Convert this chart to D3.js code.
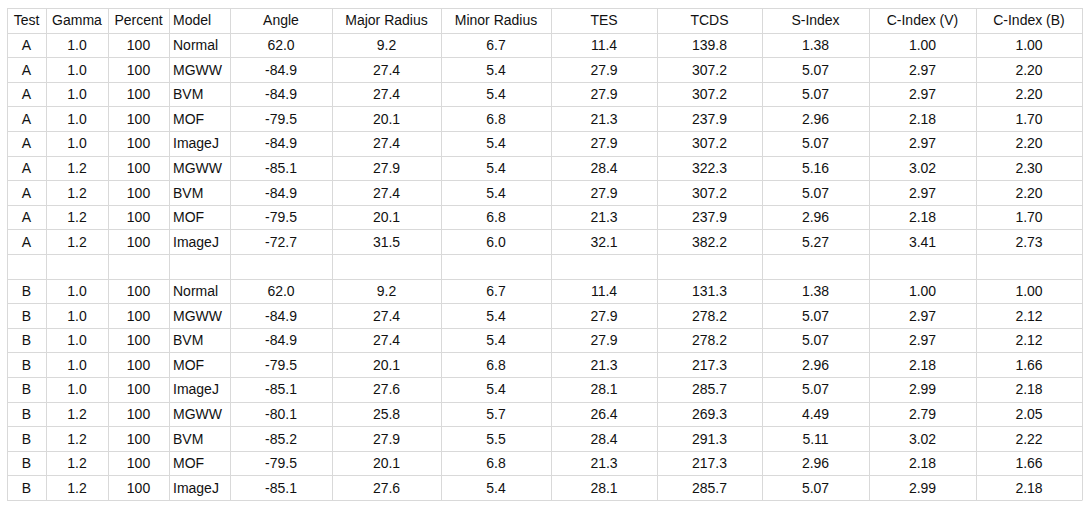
<!DOCTYPE html>
<html lang="en">
<head>
<meta charset="utf-8">
<script src="https://cdn.jsdelivr.net/npm/d3@7"></script>
<style>
body { margin: 0; background: #fff; }
text { font-family: "Liberation Sans", Arial, sans-serif; font-size: 14px; fill: #111; }
</style>
</head>
<body>
<script>
var headers = ["Test", "Gamma", "Percent", "Model", "Angle", "Major Radius", "Minor Radius", "TES", "TCDS", "S-Index", "C-Index (V)", "C-Index (B)"];
var tests = ["A","A","A","A","A","A","A","A","A","", "B","B","B","B","B","B","B","B","B"];
var gammas = ["1.0","1.0","1.0","1.0","1.0","1.2","1.2","1.2","1.2","", "1.0","1.0","1.0","1.0","1.0","1.2","1.2","1.2","1.2"];
var percents = ["100","100","100","100","100","100","100","100","100","", "100","100","100","100","100","100","100","100","100"];
var models = ["Normal","MGWW","BVM","MOF","ImageJ","MGWW","BVM","MOF","ImageJ","", "Normal","MGWW","BVM","MOF","ImageJ","MGWW","BVM","MOF","ImageJ"];
var angles = ["62.0","-84.9","-84.9","-79.5","-84.9","-85.1","-84.9","-79.5","-72.7","", "62.0","-84.9","-84.9","-79.5","-85.1","-80.1","-85.2","-79.5","-85.1"];
var majorR = ["9.2","27.4","27.4","20.1","27.4","27.9","27.4","20.1","31.5","", "9.2","27.4","27.4","20.1","27.6","25.8","27.9","20.1","27.6"];
var minorR = ["6.7","5.4","5.4","6.8","5.4","5.4","5.4","6.8","6.0","", "6.7","5.4","5.4","6.8","5.4","5.7","5.5","6.8","5.4"];
var tes = ["11.4","27.9","27.9","21.3","27.9","28.4","27.9","21.3","32.1","", "11.4","27.9","27.9","21.3","28.1","26.4","28.4","21.3","28.1"];
var tcds = ["139.8","307.2","307.2","237.9","307.2","322.3","307.2","237.9","382.2","", "131.3","278.2","278.2","217.3","285.7","269.3","291.3","217.3","285.7"];
var sIndex = ["1.38","5.07","5.07","2.96","5.07","5.16","5.07","2.96","5.27","", "1.38","5.07","5.07","2.96","5.07","4.49","5.11","2.96","5.07"];
var cIndexV = ["1.00","2.97","2.97","2.18","2.97","3.02","2.97","2.18","3.41","", "1.00","2.97","2.97","2.18","2.99","2.79","3.02","2.18","2.99"];
var cIndexB = ["1.00","2.20","2.20","1.70","2.20","2.30","2.20","1.70","2.73","", "1.00","2.12","2.12","1.66","2.18","2.05","2.22","1.66","2.18"];

var columns = [tests, gammas, percents, models, angles, majorR, minorR, tes, tcds, sIndex, cIndexV, cIndexB];
var edges = [7, 46, 108, 169, 230, 332, 441, 551, 657, 762, 869, 976, 1082];

var w = 1091, h = 510;
var svg = d3.select("body").append("svg").attr("width", w).attr("height", h);

var rows = d3.range(tests.length + 1);
var y = d3.scaleBand().domain(rows).range([8, 500]);

// grid lines
svg.selectAll("line.h").data(d3.range(rows.length + 1)).enter().append("line")
  .attr("x1", edges[0]).attr("x2", edges[edges.length - 1])
  .attr("y1", function(d) { return Math.round(8 + d * y.bandwidth()) + 0.5; })
  .attr("y2", function(d) { return Math.round(8 + d * y.bandwidth()) + 0.5; })
  .attr("stroke", "#d9d9d9");
svg.selectAll("line.v").data(edges).enter().append("line")
  .attr("x1", function(d) { return d + 0.5; }).attr("x2", function(d) { return d + 0.5; })
  .attr("y1", 8).attr("y2", 500.5)
  .attr("stroke", "#d9d9d9");

var cells = [];
headers.forEach(function(hd, c) {
  cells.push({ r: 0, c: c, t: hd });
  columns[c].forEach(function(v, r) { cells.push({ r: r + 1, c: c, t: v }); });
});

svg.selectAll("text").data(cells).enter().append("text")
  .attr("x", function(d) {
    if (d.c === 3) return edges[3] + 4;
    return (edges[d.c] + edges[d.c + 1]) / 2;
  })
  .attr("y", function(d) { return y(d.r) + y.bandwidth() / 2; })
  .attr("dy", "0.36em")
  .attr("text-anchor", function(d) { return d.c === 3 ? "start" : "middle"; })
  .text(function(d) { return d.t; });
</script>
</body>
</html>
